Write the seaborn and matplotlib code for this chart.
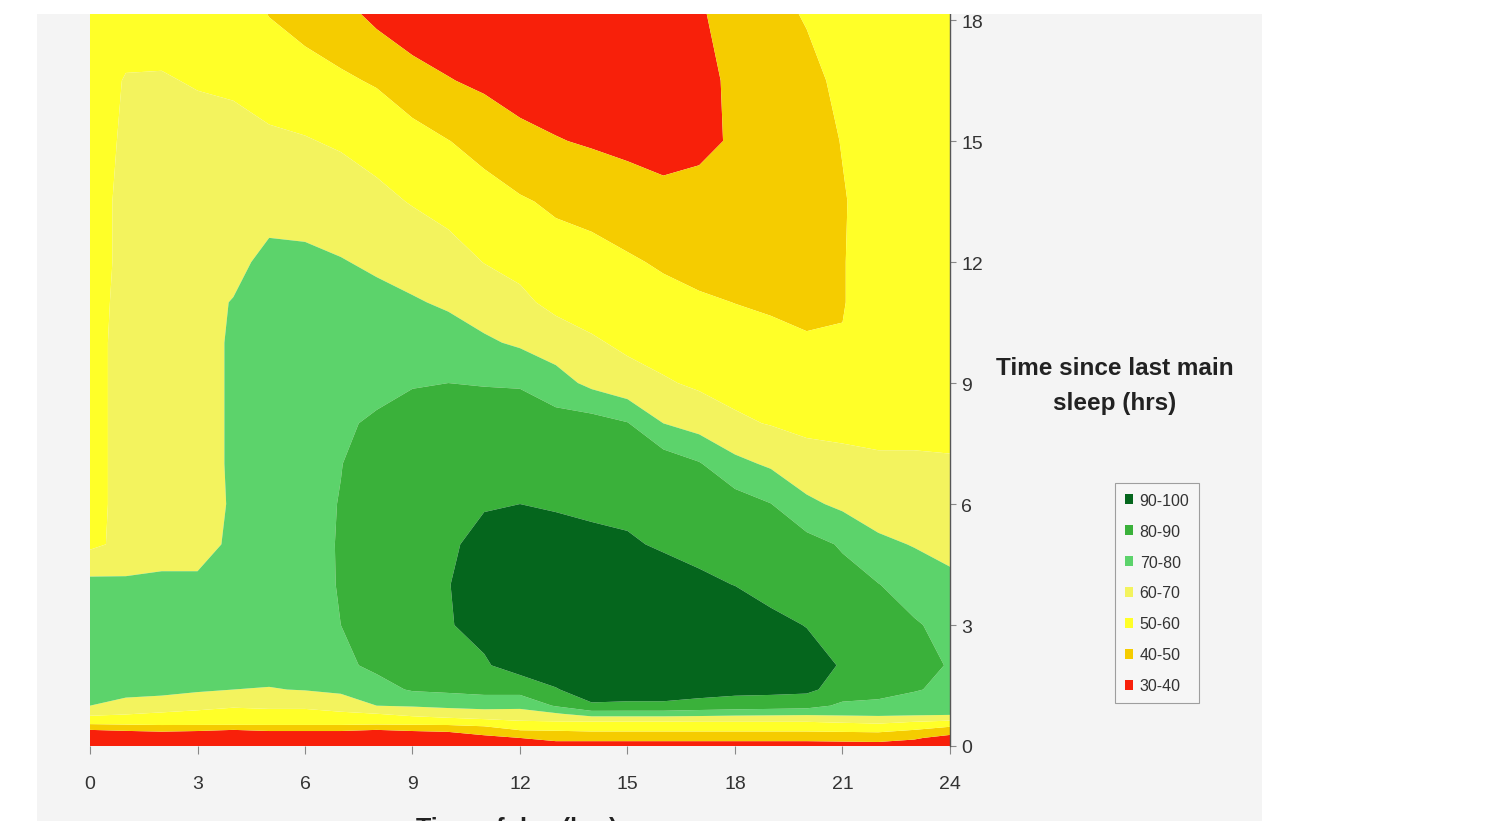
import numpy as np
import matplotlib
matplotlib.use("Agg")
import matplotlib.pyplot as plt
from matplotlib.patches import Patch, Rectangle
import seaborn as sns

# time of day (x) and time since last main sleep (y), hours
hours = list(range(0, 25))
since_sleep = [0, 0.2, 0.4, 0.6, 0.8, 1.0, 1.4, 2, 3, 4, 5, 6, 7, 8, 9, 10, 11, 12, 13.5, 15, 16.5, 18.2]

# effectiveness (%), one list per hour of day, bottom to top
col_00 = [33, 37, 40, 54, 62, 70, 73, 75, 76, 73, 58, 58, 58, 58, 58, 58, 57.5, 57.5, 57.5, 57, 56, 55]
col_01 = [33, 36.5, 40.5, 55, 60.5, 67, 73, 75, 76, 72, 62.5, 62, 62, 62, 62, 62, 62, 61.5, 61.5, 61, 60.5, 56]
col_02 = [33, 36.5, 41, 56, 59, 65, 73, 75, 76, 71.5, 67, 66, 66, 65.5, 65.5, 65.5, 65.5, 65, 65, 64.5, 60.5, 57]
col_03 = [33.5, 37, 40.5, 56, 58.5, 62, 71.5, 75, 76, 71.5, 67, 68, 68.5, 68.5, 68.5, 68.5, 68, 66.5, 64, 62.5, 59.5, 56.5]
col_04 = [34, 37, 40, 56, 58.5, 60.5, 70, 74, 76, 74, 71.5, 70.5, 70.5, 70.5, 70.5, 70.5, 70.3, 68, 65, 62, 59, 55]
col_05 = [34, 37, 40.5, 56, 58.5, 61, 69.5, 74, 76.5, 76.5, 76, 75.5, 75, 74.5, 74, 73.5, 72.5, 72, 67, 61.5, 56, 49.5]
col_06 = [34, 37, 40.5, 56, 58.5, 61, 70.5, 74, 76.5, 77, 77.5, 77.5, 77, 76.5, 76, 74.5, 73, 71.5, 67, 60.5, 55, 45]
col_07 = [34, 37, 40.5, 56, 59, 63, 72.5, 78, 80, 80.5, 80.5, 80.3, 79.8, 79, 77, 75, 73.5, 70.5, 64.5, 59, 51.5, 43]
col_08 = [34, 37, 40, 55, 60, 70, 76.5, 82, 84.5, 85.5, 85.5, 85, 83.5, 81, 78, 75.5, 72.5, 68.5, 62, 57, 49, 37]
col_09 = [34, 37, 40.5, 55.5, 62, 71, 81, 84.5, 87, 87.8, 87.5, 86.5, 85, 83, 79.5, 76.5, 71, 65.5, 59.5, 54, 43.5, 34]
col_10 = [34, 37, 41, 56, 64, 72.5, 82, 88, 89.5, 89.8, 89, 87.5, 85, 82.5, 80, 75, 68.5, 63.5, 57, 50.2, 40.5, 32.5]
col_11 = [35, 38, 44, 57.5, 65, 74, 83, 89, 92.5, 93, 92, 89.5, 85.5, 83, 79.7, 71.5, 65, 59.8, 53.5, 47, 38, 32]
col_12 = [36, 40, 50.5, 59, 67, 72, 84, 94, 95, 95, 93.5, 90, 86.5, 83, 79.5, 68.5, 62, 57.5, 51, 42.5, 36, 32]
col_13 = [37, 42, 51, 59.5, 69, 81, 89.5, 95, 96, 96, 94, 89, 86, 84, 74, 65, 57.5, 54, 48.5, 40.5, 35, 32]
col_14 = [37, 42, 52, 59.5, 75, 89, 94, 96.5, 97, 96, 92.5, 88, 85.5, 84, 67.5, 61, 56.5, 53, 47, 39, 34, 32]
col_15 = [37, 42, 52, 59.5, 75, 88.5, 94, 97, 97, 95.5, 91, 88, 84.5, 80.5, 63, 58.5, 55, 51, 45, 37.5, 33, 31]
col_16 = [37, 42, 52, 59.5, 75, 88.5, 94, 96.5, 96.5, 94, 89, 86.5, 85.5, 70, 61, 56, 52.5, 49, 41.5, 38, 33, 31]
col_17 = [37, 42, 52, 60, 74, 87, 93.5, 96, 95.5, 91, 88.5, 85.5, 80.7, 66, 58.5, 54.5, 51, 47.5, 43, 38, 37, 39]
col_18 = [37, 42, 52, 60, 73, 86, 92.5, 94.5, 93.5, 89.9, 87, 84.5, 72.5, 61.5, 57, 53, 49.9, 47, 43, 41, 42, 44]
col_19 = [37, 42, 52, 60, 72.5, 85, 92.5, 93.5, 91.5, 88, 84.5, 80.2, 68.5, 59.5, 55.5, 52, 49, 46.5, 43.5, 42.5, 44, 47]
col_20 = [37, 42, 52, 60, 72, 84, 92, 92.5, 89.8, 86.5, 83.5, 72, 63.5, 58, 54, 50.8, 48, 45.5, 44, 44.5, 47, 51]
col_21 = [37, 42.5, 52.5, 61, 72.5, 78, 86, 89.5, 87.5, 83.5, 79, 68, 62, 58, 55.5, 50.5, 49.5, 49.5, 49.2, 50.5, 52.5, 54]
col_22 = [37, 43, 53, 62, 73, 78, 83, 86, 85, 80.3, 72, 65, 61, 58, 56.5, 55.5, 55, 55, 55, 55.5, 56, 57]
col_23 = [36, 41, 50, 60, 72.5, 77, 80.5, 82.5, 81, 75.5, 69.5, 65, 60.5, 59, 57, 56, 55.5, 55.5, 55.5, 56, 56.5, 57]
col_24 = [33, 37, 45, 58, 72, 76, 78.5, 79.5, 77, 72, 67.5, 64, 60.5, 58.5, 57.5, 57, 56.5, 56.5, 56.5, 57, 57, 57.5]

levels = [30, 40, 50, 60, 70, 80, 90, 100]
band_labels = ["30-40", "40-50", "50-60", "60-70", "70-80", "80-90", "90-100"]
band_colors = ["#F8200A", "#F5CC00", "#FFFF28", "#F3F35E", "#5CD36B", "#3AB13A", "#05661D"]

z = np.array([col_00, col_01, col_02, col_03, col_04, col_05, col_06, col_07, col_08,
              col_09, col_10, col_11, col_12, col_13, col_14, col_15, col_16, col_17,
              col_18, col_19, col_20, col_21, col_22, col_23, col_24]).T

sns.set_theme(style="white")
plt.rcParams["font.family"] = ["Liberation Sans", "DejaVu Sans"]

W, H = 1487, 837
fig = plt.figure(figsize=(W / 100, H / 100), dpi=100)
fig.patch.set_facecolor("#F4F4F4")

ax = fig.add_axes([90 / W, 1 - 747 / H, 860 / W, 734 / H])
ax.contourf(hours, since_sleep, z, levels=levels, colors=band_colors, antialiased=True)
ax.set_xlim(0, 24)
ax.set_ylim(0, 18.2)
ax.set_xticks(range(0, 25, 3))
ax.set_yticks(range(0, 19, 3))
ax.yaxis.tick_right()
sns.despine(ax=ax, left=True, top=True, bottom=True, right=False)
ax.spines["right"].set_color("#555555")
ax.spines["right"].set_linewidth(1.0)
ax.tick_params(axis="x", bottom=True, direction="out", length=6, width=0.8,
               color="#888888", pad=15, labelsize=14, labelcolor="#333333")
ax.tick_params(axis="y", right=True, left=False, labelright=True, labelleft=False,
               direction="out", length=4, width=0.8, color="#888888", pad=4,
               labelsize=14, labelcolor="#333333")

fig.text(1115 / W, 1 - 386 / H, "Time since last main\nsleep (hrs)", ha="center", va="center",
         fontsize=17.5, fontweight="bold", color="#222222", linespacing=1.7)
fig.text(517 / W, 1 - 817 / H, "Time of day (hrs)", ha="center", va="top",
         fontsize=18, fontweight="bold", color="#222222")

handles = [Patch(facecolor=c, edgecolor="none", label=l)
           for c, l in zip(band_colors[::-1], band_labels[::-1])]
leg = ax.legend(handles=handles, loc="center", bbox_to_anchor=(1157 / W, 1 - 594 / H),
                bbox_transform=fig.transFigure, frameon=True, fancybox=False,
                fontsize=11.5, handlelength=0.55, handleheight=0.55, handletextpad=0.4,
                labelspacing=1.0, borderpad=0.6)
leg.get_frame().set_facecolor("#F7F7F7")
leg.get_frame().set_edgecolor("#888888")
leg.get_frame().set_linewidth(0.8)
for t in leg.get_texts():
    t.set_color("#333333")

# white margins around the grey panel (the source is cropped there)
for x0, y0, w, h in [(0, 0, 37, H), (1262, 0, W - 1262, H), (0, 0, W, 15), (0, 822, W, H - 822)]:
    fig.patches.append(Rectangle((x0 / W, 1 - (y0 + h) / H), w / W, h / H,
                                 transform=fig.transFigure, facecolor="white",
                                 edgecolor="none", zorder=10))

fig.savefig("out.png", dpi=100)
